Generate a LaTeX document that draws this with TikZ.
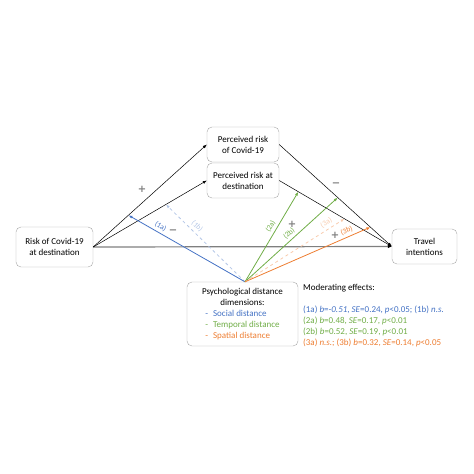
\documentclass[tikz,border=0pt]{standalone}
\usepackage{fontspec}
\setmainfont{Carlito}
\newfontfamily\signfont{DejaVu Sans}
\usetikzlibrary{arrows.meta, calc}

\definecolor{boxgray}{HTML}{A6A6A6}
\definecolor{signgray}{HTML}{7F7F7F}
\definecolor{modblue}{HTML}{4472C4}
\definecolor{lightblue}{HTML}{B4C7E7}
\definecolor{modgreen}{HTML}{70AD47}
\definecolor{modorange}{HTML}{ED7D31}
\definecolor{lightorange}{HTML}{F8CBAD}

\begin{document}
\begin{tikzpicture}[x = 1pt, y = -1pt, font = \fontsize{9}{11}\selectfont,
  box/.style = {draw = boxgray, rounded corners = 5pt, align = center, inner sep = 2pt},
  arr/.style = {-{Latex[length = 4pt, width = 3pt]}, line width = 0.5pt},
  modarr/.style = {-{Latex[length = 4pt, width = 3pt]}, line width = 0.8pt},
  modlab/.style = {sloped, above, inner sep = 2.5pt, font = \fontsize{7.5}{8}\selectfont},
  sign/.style = {text = signgray, font = \fontsize{10}{10}\signfont\bfseries, inner sep = 0pt}]
\useasboundingbox (0,0) rectangle (474,474);

% boxes
\node[box, minimum width = 77, minimum height = 40] (risk) at (54.5,247) {Risk of Covid-19\\at destination};
\node[box, minimum width = 72, minimum height = 35] (top) at (243,144.5) {Perceived risk\\of Covid-19};
\node[box, minimum width = 72, minimum height = 35] (sec) at (243,180.5) {Perceived risk at\\destination};
\node[box, minimum width = 65, minimum height = 35] (travel) at (424.5,246.5) {Travel\\intentions};
\node[box, minimum width = 111, minimum height = 64] (dist) at (242.5,314) {%
  \begin{tabular}{@{}c@{}}Psychological distance\\dimensions:\\
  \begin{tabular}{@{}l@{}}
  \textcolor{modblue}{-\hspace{5pt}Social distance}\\
  \textcolor{modgreen}{-\hspace{5pt}Temporal distance}\\
  \textcolor{modorange}{-\hspace{5pt}Spatial distance}
  \end{tabular}\end{tabular}};
\node[anchor = north west, align = left, inner sep = 0pt] (effects) at (303,284) {%
  Moderating effects:\\[11pt]
  \textcolor{modblue}{(1a) \textit{b}=\textit{-0.51}, \textit{SE}=0.24, \textit{p}<0.05; (1b) \textit{n.s.}}\\
  \textcolor{modgreen}{(2a) \textit{b}=0.48, \textit{SE}=0.17, \textit{p}<0.01}\\
  \textcolor{modgreen}{(2b) \textit{b}=0.52, \textit{SE}=0.19, \textit{p}<0.01}\\
  \textcolor{modorange}{(3a) \textit{n.s.}; (3b) \textit{b}=0.32, \textit{SE}=0.14, \textit{p}<0.05}};

% main paths
\draw[arr, draw = signgray, line width = 1.2pt, -{Latex[length = 4pt, width = 3.5pt, black]}] (risk.east) -- (travel.west);
\draw[arr] (risk.east) -- (top.west);
\draw[arr] (risk.east) -- (sec.west);
\draw[arr] (top.east) -- (travel.west);
\draw[arr] (sec.east) -- (travel.west);

% moderation targets
\coordinate (mod) at ([xshift = 2.5]dist.north);
\coordinate (m1a) at ($(risk.east)!0.31!(top.west)$);
\coordinate (m1b) at ($(risk.east)!0.64!(sec.west)$);
\coordinate (m2a) at ($(sec.east)!0.17!(travel.west)$);
\coordinate (m2b) at ($(top.east)!0.52!(travel.west)$);
\coordinate (m3a) at ($(sec.east)!0.58!(travel.west)$);
\coordinate (m3b) at ($(top.east)!0.81!(travel.west)$);

\draw[modarr, lightblue, dashed] (mod) -- (m1b) node[modlab, pos = .66]{(1b)};
\draw[modarr, modblue] (mod) -- (m1a) node[modlab, pos = .75]{(1a)};
\draw[modarr, modgreen] (mod) -- (m2a) node[modlab, pos = .58]{(2a)};
\draw[modarr, modgreen] (mod) -- (m2b) node[modlab, pos = .52]{(2b)};
\draw[modarr, lightorange, dashed] (mod) -- (m3a) node[modlab, pos = .85]{(3a)};
\draw[modarr, modorange] (mod) -- (m3b) node[modlab, pos = .83]{(3b)};

% signs
\node[sign] (s1) at (142,189) {+};
\node[sign] (s2) at (173,232) {−};
\node[sign] (s3) at (336,185) {−};
\node[sign] (s4) at (292,224) {+};
\node[sign] (s5) at (335,235) {+};
\end{tikzpicture}
\end{document}
